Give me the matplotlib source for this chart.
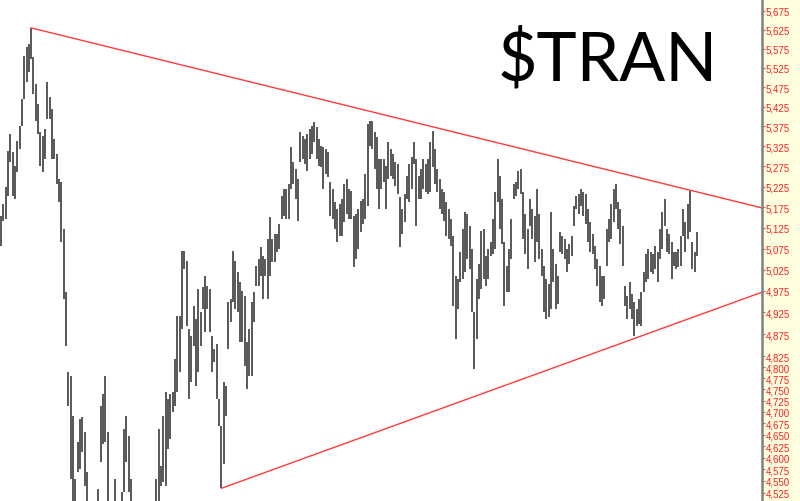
import matplotlib
matplotlib.use("Agg")
import matplotlib.pyplot as plt
import numpy as np
from matplotlib.ticker import FixedLocator, FuncFormatter, NullLocator
from matplotlib.patches import Rectangle

# 日線高低點
highs = [
    5153, 5182, 5224, 5313, 5356, 5311, 5276, 5338, 5376, 5445,
    5556, 5580, 5588, 5630, 5553, 5483, 5432, 5361, 5351, 5369,
    5488, 5450, 5419, 5343, 5306, 5244, 5237, 5122, 4972, 4788,
    4779, 4690, 4554, 4633, 4684, 4688, 4655, 4569, 4490, 4470,
    4480, 4500, 4532, 4713, 4740, 4779, 4655, 4490, 4500, 4554,
    4495, 4500, 4526, 4662, 4690, 4646, 4554, 4490, 4460, 4450,
    4440, 4470, 4480, 4460, 4490, 4500, 4495, 4554, 4662, 4581,
    4690, 4744, 4728, 4740, 4744, 4818, 4917, 4917, 5069, 5069,
    5045, 4886, 4870, 4940, 4910, 4979, 4926, 4984, 5010, 4986,
    4979, 4870, 4841, 4852, 4728, 4668, 4766, 4757, 4949, 4956,
    5069, 5045, 5019, 4995, 4975, 4963, 4857, 4886, 4949, 4972,
    5033, 5050, 5079, 5057, 5050, 5098, 5151, 5098, 5110, 5110,
    5134, 5202, 5219, 5219, 5232, 5323, 5286, 5269, 5244, 5361,
    5351, 5343, 5356, 5369, 5376, 5386, 5374, 5343, 5326, 5323,
    5318, 5311, 5237, 5219, 5188, 5170, 5182, 5195, 5232, 5244,
    5219, 5214, 5153, 5158, 5170, 5190, 5195, 5256, 5381, 5389,
    5389, 5361, 5348, 5293, 5293, 5293, 5276, 5336, 5318, 5306,
    5286, 5281, 5200, 5170, 5207, 5251, 5281, 5298, 5336, 5293,
    5251, 5269, 5293, 5281, 5293, 5336, 5364, 5318, 5269, 5244,
    5219, 5212, 5188, 5170, 5146, 5105, 5010, 5003, 5067, 5122,
    5163, 5158, 5129, 5074, 4926, 5003, 5038, 5117, 5122, 5057,
    5074, 5091, 5146, 5212, 5293, 5251, 5195, 5091, 5033, 5074,
    5146, 5232, 5237, 5264, 5269, 5212, 5158, 5122, 5195, 5170,
    5153, 5219, 5158, 5074, 5033, 5003, 4991, 5163, 5074, 5038,
    5010, 5115, 5105, 5098, 5074, 5086, 5105, 5177, 5202, 5207,
    5219, 5212, 5207, 5170, 5139, 5110, 5081, 5050, 5033, 5010,
    5010, 5122, 5146, 5182, 5219, 5232, 5188, 5170, 5129, 4986,
    4963, 4996, 4968, 4949, 4933, 4956, 4972, 5019, 5062, 5074,
    5067, 5062, 5081, 5067, 5122, 5163, 5195, 5122, 5110, 5091,
    5067, 5067, 5074, 5105, 5170, 5139, 5182, 5214, 5091, 5067,
    5115,
]
lows = [
    5081, 5141, 5146, 5202, 5286, 5202, 5195, 5261, 5318, 5376,
    5445, 5488, 5514, 5548, 5458, 5389, 5356, 5276, 5261, 5293,
    5394, 5394, 5293, 5293, 5232, 5188, 5091, 4956, 4848, 4713,
    4554, 4480, 4470, 4569, 4575, 4612, 4539, 4460, 4400, 4380,
    4390, 4420, 4450, 4590, 4629, 4633, 4480, 4410, 4420, 4460,
    4410, 4430, 4460, 4526, 4590, 4526, 4480, 4400, 4370, 4350,
    4340, 4380, 4390, 4360, 4400, 4410, 4420, 4460, 4500, 4539,
    4547, 4539, 4618, 4640, 4700, 4713, 4744, 4788, 4886, 5026,
    4893, 4728, 4766, 4848, 4757, 4788, 4848, 4933, 4879, 4933,
    4879, 4788, 4811, 4728, 4668, 4534, 4586, 4690, 4841, 4903,
    4949, 4933, 4926, 4857, 4857, 4802, 4751, 4779, 4779, 4903,
    4986, 4986, 5010, 4956, 5010, 4956, 5010, 5043, 5043, 5067,
    5074, 5146, 5153, 5146, 5146, 5219, 5232, 5195, 5141, 5286,
    5293, 5281, 5264, 5293, 5306, 5336, 5293, 5276, 5274, 5219,
    5256, 5249, 5153, 5146, 5122, 5091, 5105, 5105, 5139, 5158,
    5146, 5146, 5031, 5050, 5074, 5115, 5134, 5146, 5177, 5326,
    5318, 5269, 5219, 5170, 5219, 5237, 5170, 5244, 5251, 5244,
    5227, 5207, 5079, 5110, 5139, 5195, 5188, 5219, 5281, 5129,
    5195, 5195, 5219, 5212, 5207, 5212, 5274, 5232, 5212, 5170,
    5158, 5141, 5105, 5098, 5081, 4940, 4864, 4933, 4996, 5003,
    5019, 5050, 5026, 4926, 4795, 4864, 4956, 4979, 5003, 4986,
    5003, 5057, 5062, 5074, 5188, 5122, 5086, 4940, 4972, 4972,
    5050, 5195, 5202, 5219, 5207, 5098, 5062, 5026, 5129, 5098,
    5043, 5091, 5050, 5010, 4926, 4910, 4914, 4933, 4996, 4933,
    4944, 5067, 5062, 5050, 5019, 5038, 5057, 5129, 5170, 5158,
    5177, 5153, 5134, 5091, 5067, 5062, 5026, 4986, 4949, 4940,
    4956, 5033, 5091, 5098, 5139, 5170, 5122, 5086, 5033, 4940,
    4910, 4933, 4910, 4870, 4893, 4898, 4893, 4972, 4996, 5003,
    5019, 5015, 5026, 4996, 5050, 5074, 5129, 5067, 5062, 5003,
    5033, 5026, 5031, 5033, 5105, 5067, 5098, 5115, 5026, 5019,
    5057,
]

# 三角形趨勢線（起點 bar 及價位，延伸到右軸）
upper_line = ([13, 328.0], [5630, 5173])
lower_line = ([95, 328.0], [4534, 4972])

# 右軸刻度
ticks = [4525, 4550, 4575, 4600, 4625, 4650, 4675, 4700, 4725, 4750,
         4775, 4800, 4825, 4875, 4925, 4975, 5025, 5075, 5125, 5175,
         5225, 5275, 5325, 5375, 5425, 5475, 5525, 5575, 5625, 5675]

fig = plt.figure(figsize=(8.0, 5.02), dpi=100)
fig.patch.set_facecolor("white")
# 右側淡黃色價位欄（放在最底層，免得蓋住刻度文字）
fig.patches.append(Rectangle((762 / 800, 0), 38 / 800, 1, transform=fig.transFigure,
                             facecolor="#ffffe0", edgecolor="none", zorder=-5))

ax = fig.add_axes([0, 0, 762 / 800, 1])
ax.set_facecolor("white")

x = np.arange(len(highs))
ax.vlines(x, lows, highs, color="#2a2a2a", linewidth=1.1)

ax.plot(upper_line[0], upper_line[1], color="#ff3b3b", linewidth=1.0, clip_on=False)
ax.plot(lower_line[0], lower_line[1], color="#ff3b3b", linewidth=1.0, clip_on=False)

ax.set_yscale("log")
ax.set_ylim(4507, 5707)
ax.set_xlim(-0.43, 328.0)

ax.yaxis.tick_right()
ax.yaxis.set_major_locator(FixedLocator(ticks))
ax.yaxis.set_minor_locator(NullLocator())
ax.yaxis.set_major_formatter(FuncFormatter(lambda v, p: f"{v:,.0f}"))
ax.tick_params(axis="y", which="major", direction="out", length=2, width=0.8,
               color="#808080", pad=0.5, labelsize=7, labelcolor="#ff2020")
for lab in ax.get_yticklabels():
    lab.set_family("Liberation Sans")
ax.set_xticks([])

for side in ["left", "top", "bottom"]:
    ax.spines[side].set_visible(False)
ax.spines["right"].set_color("#808080")
ax.spines["right"].set_linewidth(1.8)

fig.text(718 / 800, 1 - 80 / 502, "$TRAN", ha="right", va="baseline",
         fontsize=49, family="Lato", fontweight="normal", color="black")

fig.savefig("out.png", dpi=100)
